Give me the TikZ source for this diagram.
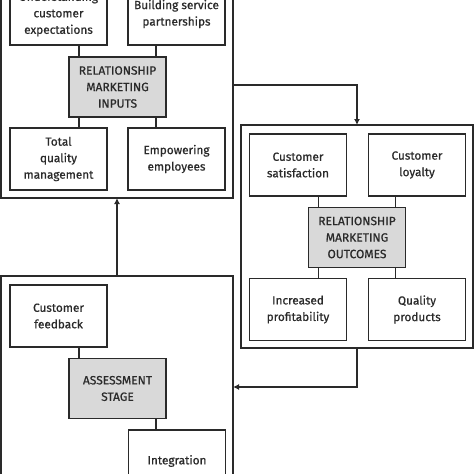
\documentclass[tikz,border=0pt]{standalone}
\usepackage{fontspec}
\setmainfont{Fira Sans}[FakeBold=0.7]
\usetikzlibrary{arrows.meta}
\definecolor{ink}{HTML}{2A2A2A}
\definecolor{shade}{HTML}{D9D9D9}
\tikzset{
  outerbox/.style={draw=ink, line width=1.3pt, inner sep=0pt, outer sep=0pt, minimum width=232pt},
  itembox/.style={draw=ink, line width=1.2pt, fill=white, inner sep=0pt, outer sep=0pt,
    minimum width=97pt, minimum height=62pt, align=center, text=ink,
    font=\fontsize{11.8}{16.5}\selectfont},
  corebox/.style={itembox, fill=shade, minimum height=60pt, font=\fontsize{12}{16.5}\selectfont},
  link/.style={draw=ink, line width=1.2pt},
  arr/.style={link, -{Latex[length=6pt,width=6pt]}}
}
\begin{document}
\begin{tikzpicture}[x=1pt,y=-1pt]
\useasboundingbox (0,0) rectangle (474,474);
\clip (0,0) rectangle (474,474);
\fill[white] (0,0) rectangle (474,474);
% containers
\node[outerbox, minimum height=228pt] (topgrp) at (117,84) {};
\node[outerbox, minimum height=234pt] (botgrp) at (117,393) {};
\node[outerbox, minimum height=223pt] (rightgrp) at (357,236.5) {};
% top group
\node[itembox] (und) at (58.5,14) {Understanding\\customer\\expectations};
\node[itembox] (bsp) at (176.5,14) {Building service\\partnerships};
\node[corebox] (rmi) at (117.5,87) {RELATIONSHIP\\MARKETING\\INPUTS};
\node[itembox] (tqm) at (58.5,159) {Total\\quality\\management};
\node[itembox] (emp) at (176.5,159) {Empowering\\employees};
% right group
\node[itembox] (cs) at (298,165) {Customer\\satisfaction};
\node[itembox] (cl) at (417,165) {Customer\\loyalty};
\node[corebox] (rmo) at (357,237.5) {RELATIONSHIP\\MARKETING\\OUTCOMES};
\node[itembox] (ip) at (298,309.5) {Increased\\profitability};
\node[itembox] (qp) at (417,309.5) {Quality\\products};
% bottom group
\node[itembox] (cf) at (58.5,316) {Customer\\feedback};
\node[corebox] (as) at (117.5,388.5) {ASSESSMENT\\STAGE};
\node[itembox] (int) at (177,461) {Integration};
% inner links
\draw[link] ([xshift=10pt]rmi.north west) -- ([xshift=10pt]rmi.north west |- und.south);
\draw[link] ([xshift=-10pt]rmi.north east) -- ([xshift=-10pt]rmi.north east |- bsp.south);
\draw[link] ([xshift=10pt]rmi.south west) -- ([xshift=10pt]rmi.south west |- tqm.north);
\draw[link] ([xshift=-10pt]rmi.south east) -- ([xshift=-10pt]rmi.south east |- emp.north);
\draw[link] ([xshift=10pt]rmo.north west) -- ([xshift=10pt]rmo.north west |- cs.south);
\draw[link] ([xshift=-10pt]rmo.north east) -- ([xshift=-10pt]rmo.north east |- cl.south);
\draw[link] ([xshift=10pt]rmo.south west) -- ([xshift=10pt]rmo.south west |- ip.north);
\draw[link] ([xshift=-10pt]rmo.south east) -- ([xshift=-10pt]rmo.south east |- qp.north);
\draw[link] ([xshift=10pt]as.north west) -- ([xshift=10pt]as.north west |- cf.south);
\draw[link] ([xshift=-10pt]as.south east) -- ([xshift=-10pt]as.south east |- int.north);
% flow arrows
\coordinate (a1) at (0,85);
\coordinate (a2) at (0,387);
\draw[arr] (topgrp.east |- a1) -| (rightgrp.north);
\draw[arr] (rightgrp.south) |- (botgrp.east |- a2);
\draw[arr] (botgrp.north) -- (topgrp.south);
\end{tikzpicture}
\end{document}
